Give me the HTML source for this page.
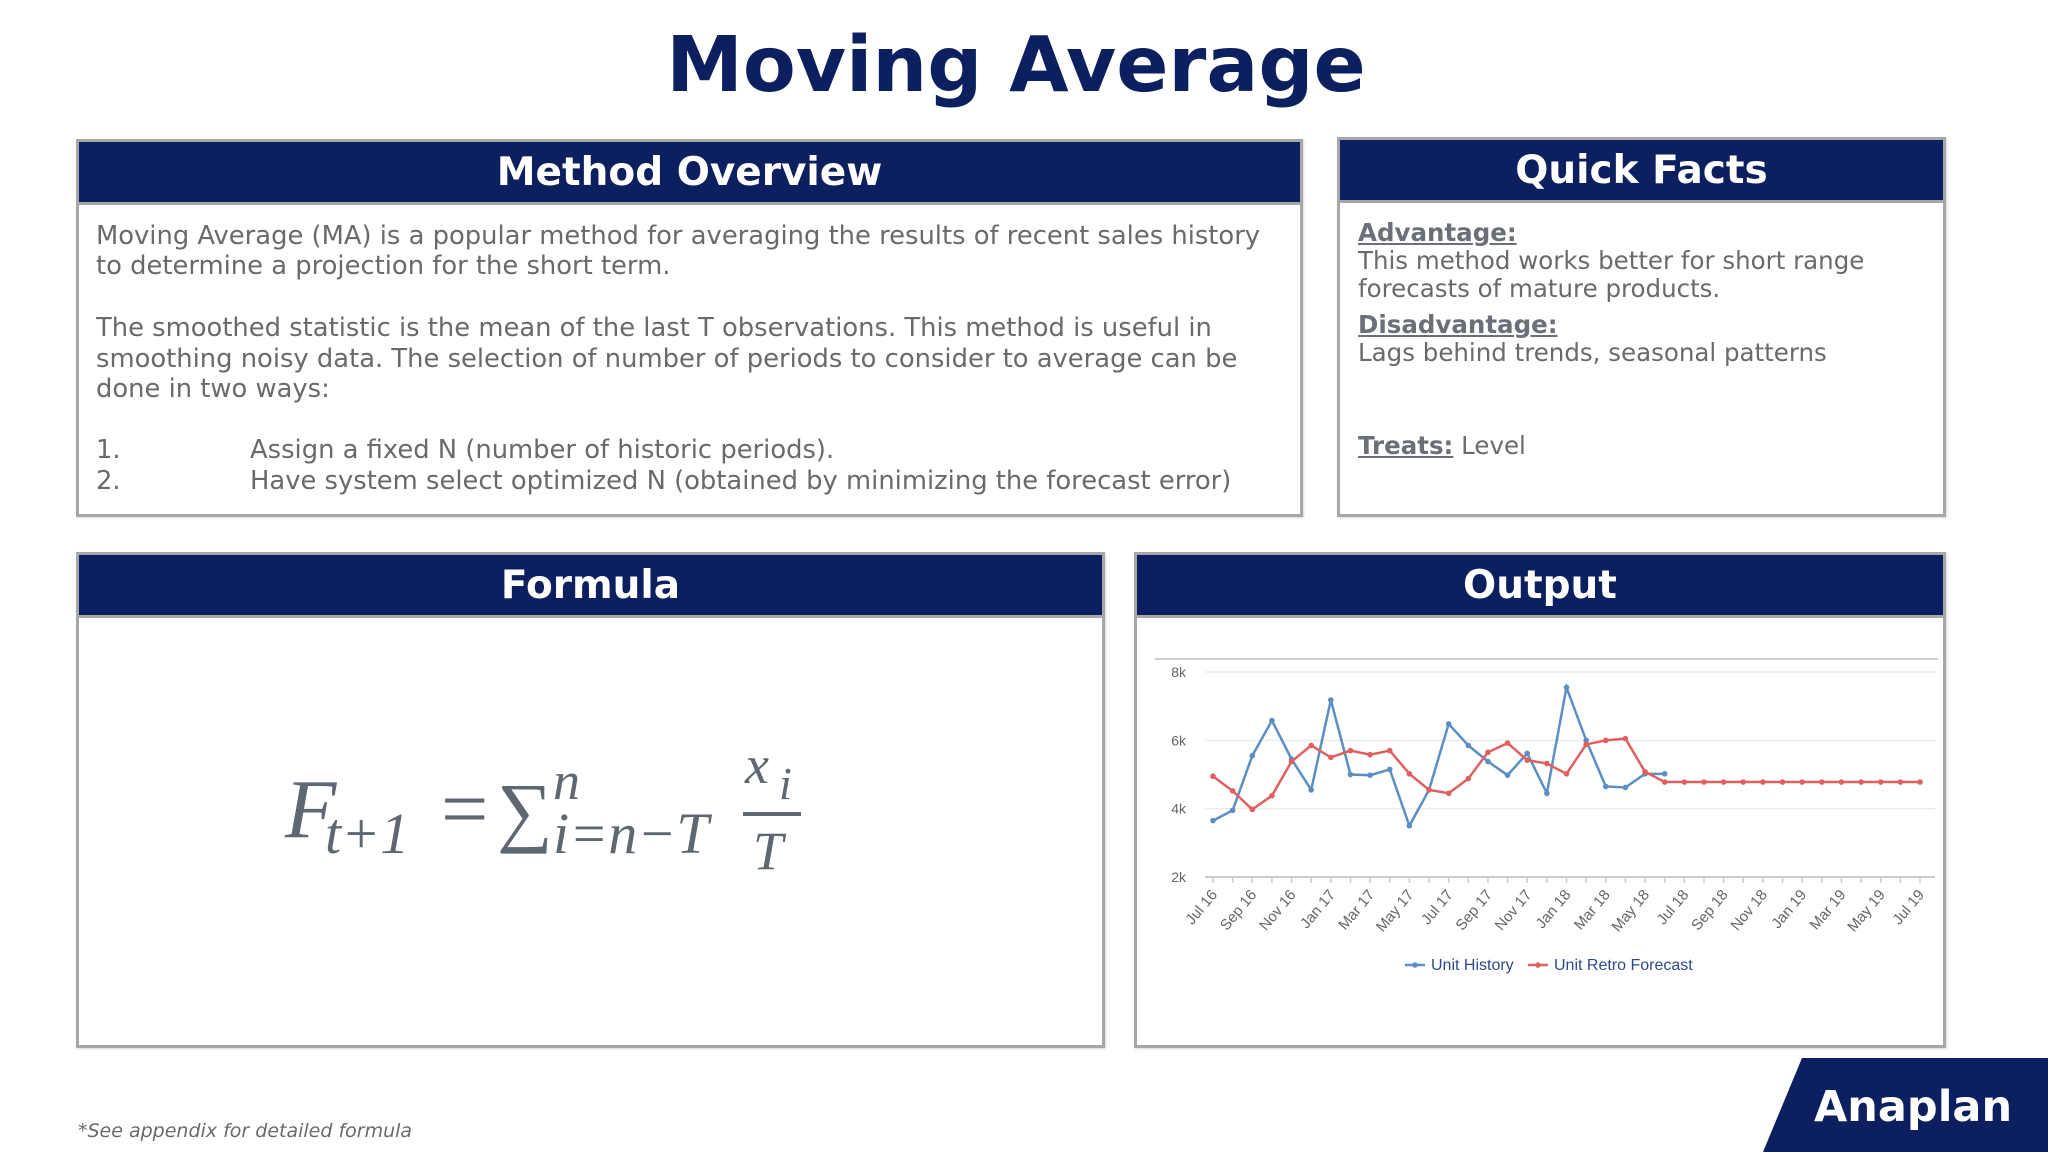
<!DOCTYPE html>
<html><head><meta charset="utf-8"><style>
body{margin:0;width:2048px;height:1152px;background:#fff;position:relative;overflow:hidden;font-family:"DejaVu Sans","Liberation Sans",sans-serif;}
.abs{position:absolute;}
.panel{position:absolute;border:3px solid #a7a7a7;box-sizing:border-box;background:#fff;box-shadow:1px 1px 2px rgba(0,0,0,0.15);}
.hdr{position:absolute;left:0;top:0;right:0;height:60px;background:#0c1f5e;color:#fff;font-weight:bold;font-size:39px;text-align:center;line-height:62px;border-bottom:3px solid #a7a7a7;}
.txt{position:absolute;color:#6a6a6a;font-size:25.8px;line-height:30px;white-space:nowrap;}
.lbl{font-weight:bold;text-decoration:underline;color:#6a6f78;}
</style></head><body>
<div class="abs" style="left:0;width:2032px;top:21px;text-align:center;font-size:77px;font-weight:bold;color:#0c1f5e;">Moving Average</div>

<div class="panel" style="left:76px;top:139px;width:1227px;height:378px;">
 <div class="hdr">Method Overview</div>
 <div class="txt" style="left:17px;top:79px;">Moving Average (MA) is a popular method for averaging the results of recent sales history<br>to determine a projection for the short term.</div>
 <div class="txt" style="left:17px;top:171px;line-height:30.5px;">The smoothed statistic is the mean of the last T observations. This method is useful in<br>smoothing noisy data. The selection of number of periods to consider to average can be<br>done in two ways:</div>
 <div class="txt" style="left:17px;top:293px;">1.</div>
 <div class="txt" style="left:171px;top:293px;">Assign a fixed N (number of historic periods).</div>
 <div class="txt" style="left:17px;top:324px;">2.</div>
 <div class="txt" style="left:171px;top:324px;">Have system select optimized N (obtained by minimizing the forecast error)</div>
</div>

<div class="panel" style="left:1337px;top:137px;width:609px;height:380px;">
 <div class="hdr">Quick Facts</div>
 <div class="txt" style="left:18px;top:79px;line-height:28px;font-size:24.5px;"><span class="lbl">Advantage:</span><br>This method works better for short range<br>forecasts of mature products.</div>
 <div class="txt" style="left:18px;top:171px;line-height:28px;font-size:24.5px;"><span class="lbl">Disadvantage:</span><br>Lags behind trends, seasonal patterns</div>
 <div class="txt" style="left:18px;top:291px;font-size:24.5px;"><span class="lbl">Treats:</span> Level</div>
</div>

<div class="panel" style="left:76px;top:552px;width:1029px;height:496px;">
 <div class="hdr">Formula</div>
 <svg class="abs" style="left:0;top:0" width="1023" height="490">
  <g fill="#5f6771" font-family="Liberation Serif, DejaVu Serif, serif" font-style="italic">
   <text x="206" y="282" font-size="84">F</text>
   <text x="246" y="298" font-size="58">t+1</text>
   <text x="362" y="282" font-size="84" font-style="normal">=</text>
   <text x="418" y="282" font-size="78" font-style="normal">∑</text>
   <text x="474" y="244" font-size="54">n</text>
   <text x="474" y="298" font-size="58">i=n−T</text>
   <text x="666" y="228" font-size="54">x</text>
   <text x="700" y="244" font-size="46">i</text>
   <rect x="664" y="257" width="58" height="4"/>
   <text x="674" y="314" font-size="54">T</text>
  </g>
 </svg>
</div>

<div class="panel" style="left:1134px;top:552px;width:812px;height:496px;">
 <div class="hdr">Output</div>
</div>
<svg id="chart" class="abs" style="left:0;top:0" width="2048" height="1152"></svg>

<div class="abs" style="left:78px;top:1120px;font-size:19px;font-style:italic;color:#6a6a6a;">*See appendix for detailed formula</div>

<svg class="abs" style="left:0;top:0" width="2048" height="1152">
 <polygon points="1763,1152 1802,1058 2048,1058 2048,1152" fill="#0c1f5e"/>
 <text x="1814" y="1121" font-size="43" font-weight="bold" fill="#fff" font-family="DejaVu Sans, sans-serif">Anaplan</text>
</svg>

<script>
const months=["Jul 16","Aug 16","Sep 16","Oct 16","Nov 16","Dec 16","Jan 17","Feb 17","Mar 17","Apr 17","May 17","Jun 17","Jul 17","Aug 17","Sep 17","Oct 17","Nov 17","Dec 17","Jan 18","Feb 18","Mar 18","Apr 18","May 18","Jun 18","Jul 18","Aug 18","Sep 18","Oct 18","Nov 18","Dec 18","Jan 19","Feb 19","Mar 19","Apr 19","May 19","Jun 19","Jul 19"];
const history=[3.65,3.95,5.55,6.58,5.45,4.55,7.18,5.0,4.98,5.15,3.5,4.55,6.48,5.85,5.38,4.98,5.62,4.45,7.55,6.0,4.65,4.62,5.02,5.02];
const forecast=[4.95,4.52,3.98,4.38,5.38,5.85,5.5,5.7,5.58,5.7,5.02,4.55,4.45,4.88,5.65,5.92,5.42,5.32,5.02,5.88,6.0,6.05,5.08,4.78,4.78,4.78,4.78,4.78,4.78,4.78,4.78,4.78,4.78,4.78,4.78,4.78,4.78];
const yTicks=[2,4,6,8];
const yTickLabels=["2k","4k","6k","8k"];
const NS='http://www.w3.org/2000/svg';
const svg=document.getElementById('chart');
const X0=1213,X1=1920,Y0=877,Y1=672,YMIN=2,YMAX=8;
const xs=i=>X0+(X1-X0)*i/(months.length-1);
const ys=v=>Y0-(Y0-Y1)*(v-YMIN)/(YMAX-YMIN);
function mk(t,a){const e=document.createElementNS(NS,t);for(const k in a)e.setAttribute(k,a[k]);svg.appendChild(e);return e;}
let e=mk('line',{x1:1155,x2:1938,y1:659,y2:659,stroke:'#d0d0d0','stroke-width':2});


yTicks.forEach((v,i)=>{
 const g=mk('line',{x1:1205,x2:1935,y1:ys(v),y2:ys(v),stroke:i==0?'#ccc':'#ececec','stroke-width':i==0?2:1.5});
 
 
 const t=mk('text',{x:1186,y:ys(v)+5,'font-size':14,fill:'#666','text-anchor':'end','font-family':'Liberation Sans, sans-serif'});
 t.textContent=yTickLabels[i];
 
 
});
months.forEach((m,i)=>{
 const tk=mk('line',{x1:xs(i),x2:xs(i),y1:Y0,y2:Y0+6,stroke:'#ccc','stroke-width':1.5});
 
 
 if(i%2==0){
  const t=mk('text',{x:xs(i)+5,y:Y0+18,'font-size':15,fill:'#666','text-anchor':'end','font-family':'Liberation Sans, sans-serif',transform:`rotate(-50 ${xs(i)+5} ${Y0+18})`});
  t.textContent=m;
  
  
 }
});
function series(vals,color,name){
 const p=mk('polyline',{points:vals.map((v,i)=>xs(i)+','+ys(v)).join(' '),fill:'none',stroke:color,'stroke-width':2.5});
 
 
 vals.forEach((v,i)=>{
  const c=mk('circle',{cx:xs(i),cy:ys(v),r:2.8,fill:color});
  
  
 });
}
series(history,'#5b8fc4','unit-history');
series(forecast,'#e06060','unit-retro-forecast');
function leg(x,color,label,name){
 const l=mk('line',{x1:x,x2:x+20,y1:965,y2:965,stroke:color,'stroke-width':2.5});
 
 
 const c=mk('circle',{cx:x+10,cy:965,r:2.8,fill:color});
 
 
 const t=mk('text',{x:x+26,y:970,'font-size':16,fill:'#2c4a8a','font-family':'Liberation Sans, sans-serif'});
 t.textContent=label;
 
 
}
leg(1405,'#5b8fc4','Unit History','unit-history');
leg(1528,'#e06060','Unit Retro Forecast','unit-retro-forecast');
</script>
</body></html>
